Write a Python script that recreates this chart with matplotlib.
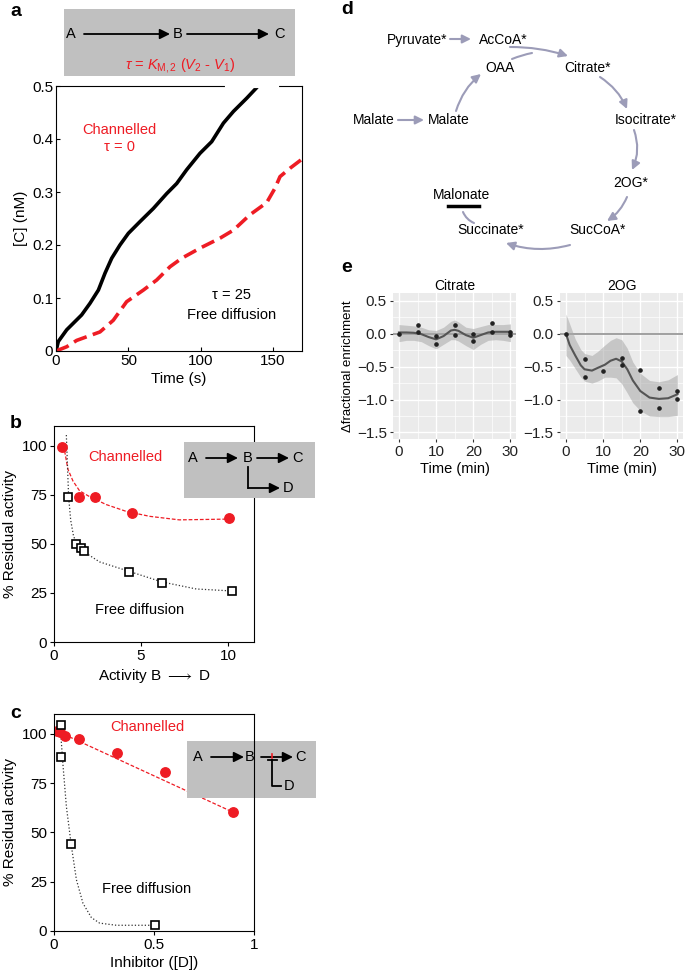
import matplotlib
matplotlib.use('Agg')
import matplotlib.pyplot as plt
from matplotlib.patches import Rectangle, FancyArrowPatch

plt.rcParams['font.family'] = ['Liberation Sans', 'DejaVu Sans']
plt.rcParams['mathtext.fontset'] = 'custom'
plt.rcParams['mathtext.rm'] = 'Liberation Sans'
plt.rcParams['mathtext.it'] = 'Liberation Sans:italic'
plt.rcParams['font.size'] = 10

# ---- data ----
# panel a: [C] vs time
t_black = [0, 1.6, 7.4, 17.7, 23.5, 29.3, 33.9, 38.5, 44.2, 50, 58, 67.3, 76.5, 83.4,
           90.3, 99.5, 107.6, 115.7, 122.6, 131.8, 138.7, 145]
c_black = [0, 0.018, 0.04, 0.068, 0.09, 0.115, 0.147, 0.175, 0.2, 0.222, 0.244, 0.269,
           0.297, 0.316, 0.342, 0.373, 0.395, 0.43, 0.452, 0.477, 0.497, 0.52]
t_red = [0, 7.4, 14.3, 30.4, 39.6, 48.8, 60.4, 69.6, 78.8, 86.9, 99.5, 113.4, 122.6,
         134, 145.6, 151.3, 154.8, 161.8, 170]
c_red = [0, 0.008, 0.02, 0.036, 0.058, 0.093, 0.115, 0.134, 0.159, 0.175, 0.194, 0.213,
         0.228, 0.257, 0.28, 0.307, 0.329, 0.345, 0.362]

# panel b: residual activity vs activity B->D
b_chan_x = [0.48, 1.44, 2.34, 4.48, 10.04]
b_chan_y = [99.5, 74, 73.6, 65.5, 62.9]
b_free_x = [0.8, 1.28, 1.53, 1.7, 4.31, 6.2, 10.23]
b_free_y = [74, 49.8, 48, 46.3, 35.7, 30, 25.8]
b_chan_fit_x = [0.61, 0.8, 1.09, 1.47, 2.05, 3, 4.16, 5.5, 7.2, 10.1]
b_chan_fit_y = [97.3, 88, 82, 77, 74, 70, 66.5, 64, 62.2, 62.6]
b_free_fit_x = [0.71, 0.77, 0.84, 0.96, 1.13, 1.57, 2.62, 4.31, 6.2, 8.18, 10.23]
b_free_fit_y = [105.4, 91, 74, 62, 53.6, 46.8, 40.8, 36, 30.6, 27, 26]

# panel c: residual activity vs inhibitor
c_chan_x = [0.015, 0.028, 0.053, 0.123, 0.317, 0.553, 0.895]
c_chan_y = [101.2, 100.9, 98.8, 97.4, 90.3, 80.7, 60.5]
c_chan_fit_x = [0, 0.9]
c_chan_fit_y = [102, 60]
c_free_x = [0.037, 0.037, 0.083, 0.507]
c_free_y = [104.6, 88, 44, 2.9]
c_free_fit_x = [0.033, 0.045, 0.062, 0.087, 0.112, 0.145, 0.187, 0.228, 0.312, 0.507]
c_free_fit_y = [101, 84, 63, 43, 26, 14, 6.8, 4, 2.9, 2.9]

# panel e: delta fractional enrichment
cit_t = [0, 5, 5, 10, 10, 15, 15, 20, 20, 25, 25, 30, 30]
cit_v = [0, 0.14, 0.03, -0.035, -0.16, 0.14, -0.015, 0, -0.11, 0.16, 0.025, 0.025, -0.025]
cit_st = [0, 2, 4, 6, 8, 10, 12, 14, 15, 16, 18, 20, 22, 24, 26, 28, 30]
cit_smooth = [0.02, 0.02, 0.015, -0.005, -0.05, -0.085, -0.035, 0.05, 0.06, 0.045, -0.02,
              -0.06, -0.02, 0.02, 0.03, 0.03, 0.03]
cit_hi = [0.14, 0.13, 0.12, 0.1, 0.06, 0.05, 0.1, 0.19, 0.21, 0.18, 0.1, 0.08, 0.11, 0.14,
          0.14, 0.14, 0.15]
cit_lo = [-0.12, -0.1, -0.1, -0.12, -0.18, -0.23, -0.16, -0.09, -0.09, -0.11, -0.18, -0.24,
          -0.16, -0.1, -0.09, -0.1, -0.12]

og_t = [0, 5, 5, 10, 15, 15, 20, 20, 25, 25, 30, 30]
og_v = [0, -0.38, -0.66, -0.57, -0.37, -0.48, -0.55, -1.17, -0.82, -1.13, -0.87, -0.99]
og_st = [0, 1, 2.5, 4, 5, 7, 8.5, 10.5, 12, 13.5, 15, 16.5, 18, 20, 22.5, 25, 27.5, 30]
og_smooth = [0, -0.17, -0.33, -0.48, -0.54, -0.56, -0.52, -0.47, -0.41, -0.38, -0.42, -0.54,
             -0.71, -0.87, -0.97, -0.99, -0.98, -0.92]
og_hi = [0.3, 0.15, -0.08, -0.24, -0.3, -0.33, -0.27, -0.17, -0.1, -0.06, -0.09, -0.22,
         -0.43, -0.6, -0.71, -0.73, -0.7, -0.62]
og_lo = [-0.33, -0.4, -0.53, -0.66, -0.72, -0.75, -0.72, -0.66, -0.66, -0.67, -0.76, -0.9,
         -1.05, -1.17, -1.25, -1.26, -1.26, -1.24]

RED = '#ee1c24'
BOXC = '#c0c0c0'
PATH = '#9c9cb8'
W, H = 685, 975
TICK = 11
LAB = 11
INNER = 10.5

fig = plt.figure(figsize=(W / 100, H / 100), dpi=100)


def place(l, t, r, b):
    return [l / W, 1 - b / H, (r - l) / W, (b - t) / H]


# overlay in pixel coordinates
ov = fig.add_axes([0, 0, 1, 1], zorder=10)
ov.set_xlim(0, W)
ov.set_ylim(H, 0)
ov.axis('off')
ov.patch.set_alpha(0)


def arrow(ax, p0, p1, color='black', lw=1.3, hl=6, hw=3, rad=0.0, head=True, z=5):
    style = f'-|>,head_length={hl},head_width={hw}' if head else '-'
    ax.add_patch(FancyArrowPatch(p0, p1, arrowstyle=style, connectionstyle=f'arc3,rad={rad}',
                                 color=color, lw=lw, mutation_scale=1, shrinkA=0, shrinkB=0,
                                 transform=ov.transData, clip_on=False, zorder=z))


def txt(ax, x, y, s, **kw):
    kw.setdefault('ha', 'center')
    kw.setdefault('va', 'center')
    ax.text(x, y, s, transform=ov.transData, clip_on=False, **kw)


# ---------- panel a ----------
axa = fig.add_axes(place(56, 86, 302, 351))
axa.plot(t_black, c_black, color='black', lw=2.6)
axa.plot(t_red, c_red, color=RED, lw=2.6, dashes=(3.8, 1.8))
axa.set_xlim(0, 170)
axa.set_ylim(0, 0.5)
axa.set_xticks([0, 50, 100, 150])
axa.set_yticks([0, 0.1, 0.2, 0.3, 0.4, 0.5])
axa.set_yticklabels(['0', '0.1', '0.2', '0.3', '0.4', '0.5'])
axa.tick_params(direction='in', length=3, labelsize=TICK, pad=2)
axa.set_xlabel('Time (s)', fontsize=LAB, labelpad=3)
axa.set_ylabel('[C] (nM)', fontsize=LAB, labelpad=3)
axa.plot([118, 153], [0.5, 0.5], color='white', lw=3, clip_on=False, zorder=3)
axa.text(44, 0.417, 'Channelled', color=RED, ha='center', va='center', fontsize=INNER)
axa.text(44, 0.385, 'τ = 0', color=RED, ha='center', va='center', fontsize=INNER)
axa.text(121.5, 0.106, 'τ = 25', ha='center', va='center', fontsize=INNER)
axa.text(121.5, 0.068, 'Free diffusion', ha='center', va='center', fontsize=INNER)

ov.add_patch(Rectangle((64, 9), 231, 67, color=BOXC, lw=0))
txt(ov, 71, 34, 'A', fontsize=INNER)
arrow(ov, (84, 34), (170, 34))
txt(ov, 178, 34, 'B', fontsize=INNER)
arrow(ov, (187, 34), (269, 34))
txt(ov, 280, 34, 'C', fontsize=INNER)
txt(ov, 180, 65, r'$\tau$ = $K_{\rm M,2}$ ($V_2$ - $V_1$)', color=RED, fontsize=INNER)

# ---------- panel b ----------
axb = fig.add_axes(place(54, 426, 254, 642))
axb.plot(b_chan_fit_x, b_chan_fit_y, color=RED, lw=0.9, dashes=(3, 1.5))
axb.plot(b_free_fit_x, b_free_fit_y, color='#333333', lw=0.9, ls=':')
axb.plot(b_chan_x, b_chan_y, 'o', color=RED, ms=6.8, mec=RED)
axb.plot(b_free_x, b_free_y, 's', mfc='white', mec='black', mew=1.2, ms=5.8)
axb.set_xlim(0, 11.5)
axb.set_ylim(0, 110)
axb.set_xticks([0, 5, 10])
axb.set_yticks([0, 25, 50, 75, 100])
axb.tick_params(direction='out', length=3, labelsize=TICK, pad=2)
axb.set_xlabel(r'Activity B $\longrightarrow$ D', fontsize=LAB, labelpad=3)
axb.set_ylabel('% Residual activity', fontsize=LAB, labelpad=3)
axb.text(4.08, 94.4, 'Channelled', color=RED, ha='center', va='center', fontsize=INNER)
axb.text(4.94, 16.3, 'Free diffusion', ha='center', va='center', fontsize=INNER)
axb.add_patch(Rectangle((184, 442), 131, 56, color=BOXC, lw=0, transform=ov.transData,
                        clip_on=False, zorder=3))
txt(axb, 193, 458, 'A', fontsize=INNER, zorder=4)
arrow(axb, (206, 458), (238, 458))
txt(axb, 248, 458, 'B', fontsize=INNER, zorder=4)
arrow(axb, (257, 458), (289, 458))
txt(axb, 298, 458, 'C', fontsize=INNER, zorder=4)
axb.plot([248, 248], [467, 488], color='black', lw=1.3, transform=ov.transData,
         clip_on=False, zorder=5)
arrow(axb, (248, 488), (280, 488))
txt(axb, 288, 488, 'D', fontsize=INNER, zorder=4)

# ---------- panel c ----------
axc = fig.add_axes(place(54, 714, 254, 931))
axc.plot(c_chan_fit_x, c_chan_fit_y, color=RED, lw=0.9, dashes=(3, 1.5), zorder=2)
axc.plot(c_free_fit_x, c_free_fit_y, color='#333333', lw=0.9, ls=':', zorder=2)
axc.plot(c_chan_x, c_chan_y, 'o', color=RED, ms=6.8, mec=RED, zorder=2.1)
axc.plot(c_free_x, c_free_y, 's', mfc='white', mec='black', mew=1.2, ms=5.8, zorder=2.1)
axc.set_xlim(0, 1)
axc.set_ylim(0, 110)
axc.set_xticks([0, 0.5, 1])
axc.set_xticklabels(['0', '0.5', '1'])
axc.set_yticks([0, 25, 50, 75, 100])
axc.tick_params(direction='out', length=3, labelsize=TICK, pad=2)
axc.set_xlabel('Inhibitor ([D])', fontsize=LAB, labelpad=3)
axc.set_ylabel('% Residual activity', fontsize=LAB, labelpad=3)
axc.text(0.465, 103.6, 'Channelled', color=RED, ha='center', va='center', fontsize=INNER)
axc.text(0.465, 21.4, 'Free diffusion', ha='center', va='center', fontsize=INNER)
axc.add_patch(Rectangle((187, 741), 129, 57, color=BOXC, lw=0, transform=ov.transData,
                        clip_on=False, zorder=2.2))
txt(axc, 198, 757, 'A', fontsize=INNER, zorder=4)
arrow(axc, (211, 757), (244, 757))
txt(axc, 250, 757, 'B', fontsize=INNER, zorder=4)
arrow(axc, (261, 757), (293, 757))
txt(axc, 301, 757, 'C', fontsize=INNER, zorder=4)
axc.plot([272, 272], [754, 758], color=RED, lw=1.2, transform=ov.transData, clip_on=False, zorder=6)
axc.plot([268, 277], [760, 760], color='black', lw=1.3, transform=ov.transData, clip_on=False, zorder=5)
axc.plot([272, 272, 281], [760, 786, 786], color='black', lw=1.3, transform=ov.transData,
         clip_on=False, zorder=5)
txt(axc, 289, 786, 'D', fontsize=INNER, zorder=4)

# ---------- panel d (pathway) ----------
for x, y, s in [(417, 40, 'Pyruvate*'), (503, 40, 'AcCoA*'), (500, 68, 'OAA'),
                (588, 68, 'Citrate*'), (374, 120, 'Malate'), (449, 120, 'Malate'),
                (646, 120, 'Isocitrate*'), (631, 183, '2OG*'), (462, 195, 'Malonate'),
                (491, 230, 'Succinate*'), (598, 230, 'SucCoA*')]:
    txt(ov, x, y, s, fontsize=10)
kw = dict(color=PATH, lw=1.5, hl=5, hw=2.5)
arrow(ov, (450, 39), (471, 39), **kw)
arrow(ov, (398, 120), (424, 120), **kw)
arrow(ov, (510, 47), (568, 56), rad=-0.08, **kw)
arrow(ov, (512, 59), (532, 53), rad=-0.05, head=False, color=PATH, lw=1.5)
arrow(ov, (456, 111), (481, 74), rad=-0.15, **kw)
arrow(ov, (600, 77), (627, 109), rad=-0.15, **kw)
arrow(ov, (634, 130), (632, 170), rad=-0.2, **kw)
arrow(ov, (627, 197), (607, 221), rad=-0.15, **kw)
arrow(ov, (570, 245), (506, 243), rad=-0.15, **kw)
arrow(ov, (474, 223), (463, 212), rad=-0.2, head=False, color=PATH, lw=1.5)
ov.plot([448, 479], [206, 206], color='black', lw=2.5)

# ---------- panel e ----------
ylabs = ['\u22121.5', '\u22121.0', '\u22120.5', '0.0', '0.5']
for l, r, title, tt, vv, st, sm, hi, lo in [
        (393, 516, 'Citrate', cit_t, cit_v, cit_st, cit_smooth, cit_hi, cit_lo),
        (560, 683, '2OG', og_t, og_v, og_st, og_smooth, og_hi, og_lo)]:
    ax = fig.add_axes(place(l, 293, r, 439))
    ax.set_facecolor('#ebebeb')
    for sp in ax.spines.values():
        sp.set_visible(False)
    ax.set_xlim(-1.6, 31.5)
    ax.set_ylim(-1.6, 0.62)
    ax.set_xticks([0, 10, 20, 30])
    ax.set_xticks([5, 15, 25], minor=True)
    ax.set_yticks([-1.5, -1.0, -0.5, 0, 0.5])
    ax.set_yticks([-1.25, -0.75, -0.25, 0.25], minor=True)
    ax.set_yticklabels(ylabs)
    ax.grid(True, which='major', color='white', lw=1.0)
    ax.grid(True, which='minor', color='white', lw=0.5)
    ax.set_axisbelow(True)
    ax.tick_params(which='major', length=2.5, color='#333333', labelsize=TICK,
                   labelcolor='#222222', pad=2)
    ax.tick_params(which='minor', length=0)
    ax.axhline(0, color='#999999', lw=1.3, zorder=1)
    ax.fill_between(st, lo, hi, color='#a8a8a8', alpha=0.55, lw=0, zorder=2)
    ax.plot(st, sm, color='#555555', lw=1.5, zorder=3)
    ax.plot(tt, vv, 'o', color='#222222', ms=2.3, zorder=4)
    ax.set_title(title, fontsize=10, pad=2)
    ax.set_xlabel('Time (min)', fontsize=10.5, labelpad=2)
    if title == 'Citrate':
        ax.set_ylabel('\u0394fractional enrichment', fontsize=9.5, labelpad=2)

# panel letters
for x, y, s in [(10, 12, 'a'), (10, 424, 'b'), (10, 713, 'c'), (341, 10, 'd'), (341, 268, 'e')]:
    txt(ov, x, y, s, fontsize=14, fontweight='bold', ha='left')

fig.savefig('out.png', dpi=100)
